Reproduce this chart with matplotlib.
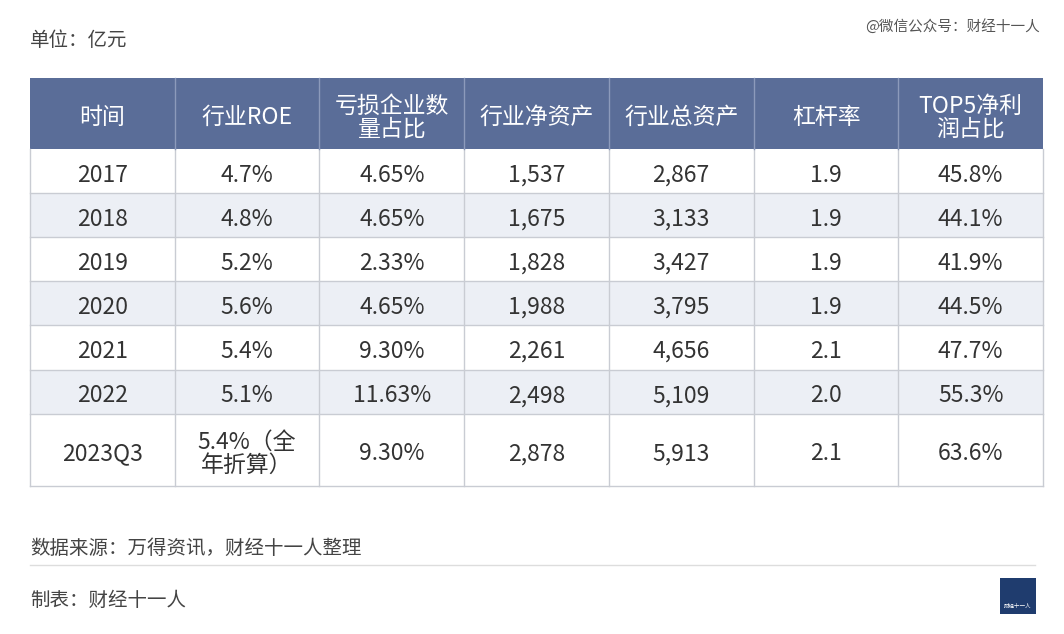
import matplotlib
matplotlib.use("Agg")
import matplotlib.pyplot as plt
from matplotlib.patches import Rectangle

plt.rcParams["font.family"] = "Noto Sans CJK SC"

headers = ["时间", "行业ROE", "亏损企业数\n量占比", "行业净资产", "行业总资产", "杠杆率", "TOP5净利\n润占比"]
years = ["2017", "2018", "2019", "2020", "2021", "2022", "2023Q3"]
roe = ["4.7%", "4.8%", "5.2%", "5.6%", "5.4%", "5.1%", "5.4%（全\n年折算）"]
loss_share = ["4.65%", "4.65%", "2.33%", "4.65%", "9.30%", "11.63%", "9.30%"]
net_assets = ["1,537", "1,675", "1,828", "1,988", "2,261", "2,498", "2,878"]
total_assets = ["2,867", "3,133", "3,427", "3,795", "4,656", "5,109", "5,913"]
leverage = ["1.9", "1.9", "1.9", "1.9", "2.1", "2.0", "2.1"]
top5 = ["45.8%", "44.1%", "41.9%", "44.5%", "47.7%", "55.3%", "63.6%"]

W, H = 1064, 634
fig = plt.figure(figsize=(W / 100, H / 100), dpi=100)
ax = fig.add_axes([0, 0, 1, 1])
ax.set_xlim(0, W); ax.set_ylim(H, 0); ax.axis("off")

x0, x1 = 30, 1043
ncol = len(headers)
cw = (x1 - x0) / ncol
hy0, hy1 = 78, 149
row_h = [44, 44, 44, 44, 45, 44, 72]
head_c = "#5a6d98"; shade = "#eceff5"; grid = "#c9ccd3"
text_c = "#333333"
dy = 4

ax.add_patch(Rectangle((x0, hy0), x1 - x0, hy1 - hy0, color=head_c, lw=0))
for j, h in enumerate(headers):
    ax.text(x0 + cw * (j + 0.5), (hy0 + hy1) / 2 + dy, h, color="white", fontsize=16.5,
            ha="center", va="center", linespacing=1.0)

cols = [years, roe, loss_share, net_assets, total_assets, leverage, top5]
y = hy1
for i in range(len(years)):
    h = row_h[i]
    if i % 2 == 1:
        ax.add_patch(Rectangle((x0, y), x1 - x0, h, color=shade, lw=0))
    for j, c in enumerate(cols):
        ax.text(x0 + cw * (j + 0.5), y + h / 2 + dy, c[i], color=text_c, fontsize=16.5,
                ha="center", va="center", linespacing=1.0)
    y += h
    ax.plot([x0, x1], [y, y], color=grid, lw=1)
bottom = y
for j in range(ncol + 1):
    xx = x0 + cw * j
    ax.plot([xx, xx], [hy1, bottom], color=grid, lw=1)
    if 0 < j < ncol:
        ax.plot([xx, xx], [hy0, hy1], color="#8c9abb", lw=1)

ax.text(30, 40, "单位：亿元", fontsize=14, color="#444444", va="center")
ax.text(1040, 26, "@微信公众号：财经十一人", fontsize=10.5, color="#555555", va="center", ha="right")
ax.text(30, 548, "数据来源：万得资讯，财经十一人整理", fontsize=14, color="#444444", va="center")
ax.plot([30, 1035], [565, 565], color="#dddddd", lw=1)
ax.text(30, 600, "制表：财经十一人", fontsize=14, color="#444444", va="center")
ax.add_patch(Rectangle((1000, 578), 36, 36, color="#1f3c6e", lw=0))
ax.text(1018, 606, "财经十一人", fontsize=4, color="white", ha="center", va="center")

fig.savefig("out.png", dpi=100, facecolor="white")
